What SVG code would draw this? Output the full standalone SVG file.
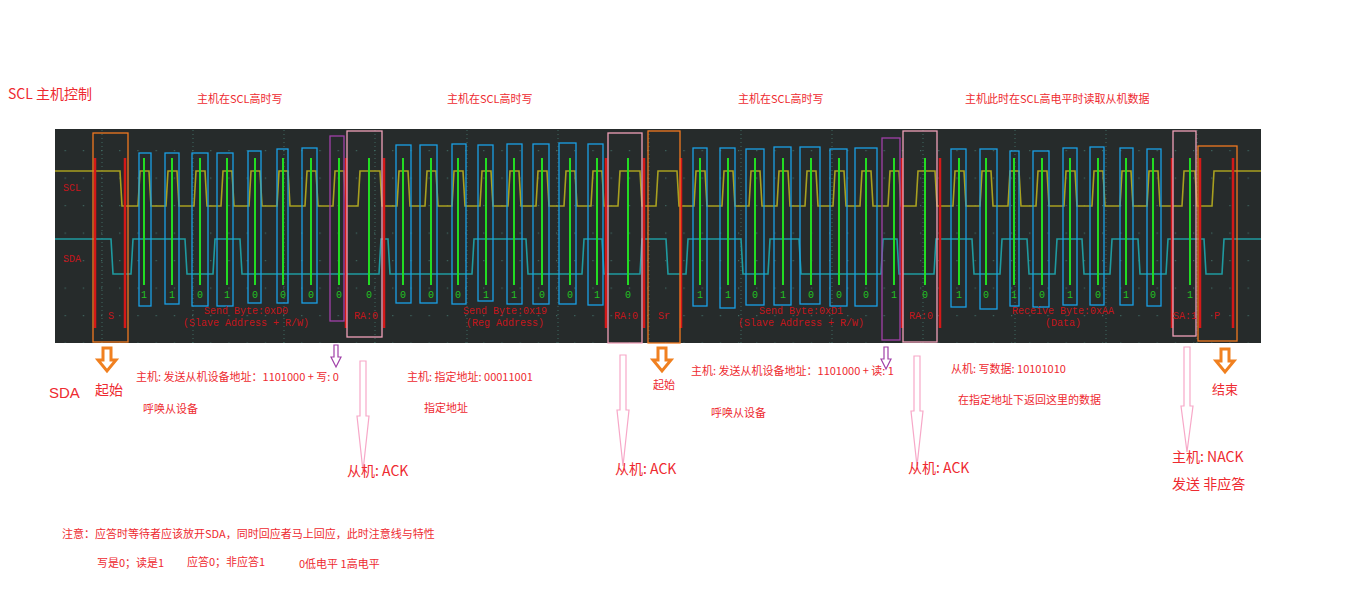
<svg xmlns="http://www.w3.org/2000/svg" width="1348" height="610" viewBox="0 0 1348 610">
<defs>
<pattern id="dots" x="10" y="150" width="18.2" height="27.5" patternUnits="userSpaceOnUse"><rect x="0" y="0" width="1.2" height="1.2" fill="#3f6a63"/></pattern>
</defs>
<style>
.ann{font-family:"Noto Sans CJK SC","Liberation Sans",sans-serif;fill:#ee2a30}
.mono{font-family:"Liberation Mono",monospace;fill:#c4161c;font-size:10px}
.bit{font-family:"Liberation Mono",monospace;fill:#22c422;font-size:10px}
.g{stroke:#22dd22;stroke-width:2}
.bb{fill:none;stroke:#1aa0e6;stroke-width:1.3}
.pb{fill:none;stroke:#f0a0b8;stroke-width:1.3}
.ob{fill:none;stroke:#f07820;stroke-width:1.3}
.vb{fill:none;stroke:#a040a8;stroke-width:1.3}
.rl{stroke:#d41818;stroke-width:2.5}
.vg{stroke:#3f6a63;stroke-width:1;stroke-dasharray:1 3}
.parr{fill:#fff;stroke:#f7a8c8;stroke-width:1.2}
.oarr{fill:#fff;stroke:#f08020;stroke-width:3}
.varr{fill:#fff;stroke:#a040a8;stroke-width:1.2}
</style>
<rect width="1348" height="610" fill="#fff"/>
<g id="scope">
<rect x="55" y="129" width="1206" height="214" fill="#262b2b"/>
<rect x="55" y="129" width="1206" height="214" fill="url(#dots)"/>
<g>
<line class="vg" x1="102" y1="130" x2="102" y2="343"/><line class="vg" x1="193" y1="130" x2="193" y2="343"/><line class="vg" x1="284" y1="130" x2="284" y2="343"/><line class="vg" x1="375" y1="130" x2="375" y2="343"/><line class="vg" x1="467" y1="130" x2="467" y2="343"/><line class="vg" x1="558" y1="130" x2="558" y2="343"/><line class="vg" x1="649" y1="130" x2="649" y2="343"/><line class="vg" x1="741" y1="130" x2="741" y2="343"/><line class="vg" x1="832" y1="130" x2="832" y2="343"/><line class="vg" x1="923" y1="130" x2="923" y2="343"/><line class="vg" x1="1015" y1="130" x2="1015" y2="343"/><line class="vg" x1="1106" y1="130" x2="1106" y2="343"/><line class="vg" x1="1197" y1="130" x2="1197" y2="343"/>
</g>
<text class="mono" x="63" y="191">SCL</text>
<text class="mono" x="63" y="262">SDA</text>
<path fill="none" stroke="#a8a020" stroke-width="1.6" d="M55,171 H120 L122,206 H138 L140,171 H149 L151,206 H166 L168,171 H177 L179,206 H194 L196,171 H205 L207,206 H221 L223,171 H232 L234,206 H249 L251,171 H260 L262,206 H277 L279,171 H288 L290,206 H305 L307,171 H316 L318,206 H333 L335,171 H344 L346,206 H358 L360,171 H380 L382,206 H397 L399,171 H408 L410,206 H425 L427,171 H436 L438,206 H452 L454,171 H463 L465,206 H480 L482,171 H491 L493,206 H508 L510,171 H519 L521,206 H536 L538,171 H547 L549,206 H564 L566,171 H575 L577,206 H591 L593,171 H602 L604,206 H618 L620,171 H640 L642,206 H656 L658,171 H677 L679,206 H694 L696,171 H705 L707,206 H722 L724,171 H733 L735,206 H749 L751,171 H760 L762,206 H777 L779,171 H788 L790,206 H805 L807,171 H816 L818,206 H833 L835,171 H844 L846,206 H860 L862,171 H871 L873,206 H888 L890,171 H899 L901,206 H916 L918,171 H935 L937,206 H953 L955,171 H964 L966,206 H980 L982,171 H991 L993,206 H1008 L1010,171 H1019 L1021,206 H1036 L1038,171 H1047 L1049,206 H1064 L1066,171 H1075 L1077,206 H1092 L1094,171 H1103 L1105,206 H1120 L1122,171 H1131 L1133,206 H1147 L1149,171 H1158 L1160,206 H1182 L1184,171 H1195 L1197,206 H1212 L1214,171 H1261"/>
<path fill="none" stroke="#1f9aa0" stroke-width="1.6" d="M55,239 H111 L113,274 H131 L133,239 H185 L187,274 H213 L215,239 H240 L242,274 H379 L381,239 H388 L390,274 H472 L474,239 H526 L528,274 H582 L584,239 H602 L604,274 H640 L642,239 H666 L668,274 H686 L688,239 H741 L743,274 H768 L770,239 H799 L801,274 H881 L883,239 H897 L899,274 H934 L936,239 H972 L974,274 H1000 L1002,239 H1027 L1029,274 H1055 L1057,239 H1082 L1084,274 H1110 L1112,239 H1138 L1140,274 H1166 L1168,239 H1204 L1206,274 H1222 L1224,239 H1261"/>
<g>
<line class="g" x1="144" y1="158" x2="144" y2="285"/><line class="g" x1="172" y1="158" x2="172" y2="285"/><line class="g" x1="200" y1="158" x2="200" y2="285"/><line class="g" x1="227" y1="158" x2="227" y2="285"/><line class="g" x1="255" y1="158" x2="255" y2="285"/><line class="g" x1="283" y1="158" x2="283" y2="285"/><line class="g" x1="311" y1="158" x2="311" y2="285"/><line class="g" x1="339" y1="158" x2="339" y2="285"/><line class="g" x1="369" y1="158" x2="369" y2="285"/>
<line class="g" x1="403" y1="158" x2="403" y2="285"/><line class="g" x1="431" y1="158" x2="431" y2="285"/><line class="g" x1="458" y1="158" x2="458" y2="285"/><line class="g" x1="486" y1="158" x2="486" y2="285"/><line class="g" x1="514" y1="158" x2="514" y2="285"/><line class="g" x1="542" y1="158" x2="542" y2="285"/><line class="g" x1="570" y1="158" x2="570" y2="285"/><line class="g" x1="597" y1="158" x2="597" y2="285"/><line class="g" x1="628" y1="158" x2="628" y2="285"/>
<line class="g" x1="700" y1="158" x2="700" y2="285"/><line class="g" x1="728" y1="158" x2="728" y2="285"/><line class="g" x1="755" y1="158" x2="755" y2="285"/><line class="g" x1="783" y1="158" x2="783" y2="285"/><line class="g" x1="811" y1="158" x2="811" y2="285"/><line class="g" x1="839" y1="158" x2="839" y2="285"/><line class="g" x1="866" y1="158" x2="866" y2="285"/><line class="g" x1="894" y1="158" x2="894" y2="285"/><line class="g" x1="925" y1="158" x2="925" y2="285"/>
<line class="g" x1="959" y1="158" x2="959" y2="285"/><line class="g" x1="986" y1="158" x2="986" y2="285"/><line class="g" x1="1014" y1="158" x2="1014" y2="285"/><line class="g" x1="1042" y1="158" x2="1042" y2="285"/><line class="g" x1="1070" y1="158" x2="1070" y2="285"/><line class="g" x1="1098" y1="158" x2="1098" y2="285"/><line class="g" x1="1126" y1="158" x2="1126" y2="285"/><line class="g" x1="1153" y1="158" x2="1153" y2="285"/><line class="g" x1="1190" y1="158" x2="1190" y2="285"/>
</g>
<g>
<rect class="bb" x="139" y="153" width="12" height="153"/><rect class="bb" x="165" y="153" width="14" height="151"/><rect class="bb" x="192" y="153" width="16" height="153"/><rect class="bb" x="217" y="153" width="16" height="153"/><rect class="bb" x="248" y="151" width="13" height="152"/><rect class="bb" x="277" y="149" width="11" height="154"/><rect class="bb" x="302" y="148" width="15" height="155"/>
<rect class="bb" x="396" y="145" width="15" height="158"/><rect class="bb" x="420" y="145" width="17" height="158"/><rect class="bb" x="452" y="144" width="14" height="160"/><rect class="bb" x="478" y="145" width="15" height="156"/><rect class="bb" x="507" y="144" width="15" height="160"/><rect class="bb" x="533" y="144" width="16" height="160"/><rect class="bb" x="559" y="143" width="17" height="161"/><rect class="bb" x="588" y="144" width="15" height="161"/>
<rect class="bb" x="693" y="148" width="14" height="158"/><rect class="bb" x="720" y="148" width="15" height="160"/><rect class="bb" x="746" y="149" width="18" height="156"/><rect class="bb" x="774" y="147" width="17" height="158"/><rect class="bb" x="800" y="147" width="20" height="157"/><rect class="bb" x="830" y="149" width="17" height="157"/><rect class="bb" x="855" y="148" width="22" height="158"/>
<rect class="bb" x="951" y="149" width="15" height="158"/><rect class="bb" x="980" y="149" width="17" height="160"/><rect class="bb" x="1010" y="151" width="9" height="155"/><rect class="bb" x="1033" y="151" width="16" height="156"/><rect class="bb" x="1063" y="148" width="14" height="157"/><rect class="bb" x="1090" y="147" width="14" height="158"/><rect class="bb" x="1120" y="148" width="13" height="157"/><rect class="bb" x="1147" y="149" width="14" height="157"/>
</g>
<g>
<line class="rl" x1="95" y1="158" x2="95" y2="328"/><line class="rl" x1="125" y1="158" x2="125" y2="328"/>
<line class="rl" x1="346" y1="158" x2="346" y2="328"/><line class="rl" x1="384" y1="158" x2="384" y2="328"/>
<line class="rl" x1="606" y1="158" x2="606" y2="328"/><line class="rl" x1="644" y1="158" x2="644" y2="328"/><line class="rl" x1="681" y1="158" x2="681" y2="328"/>
<line class="rl" x1="902" y1="158" x2="902" y2="328"/><line class="rl" x1="940" y1="158" x2="940" y2="328"/>
<line class="rl" x1="1172" y1="158" x2="1172" y2="328"/><line class="rl" x1="1200" y1="158" x2="1200" y2="328"/><line class="rl" x1="1233" y1="158" x2="1233" y2="328"/>
</g>
<rect class="ob" x="93" y="133" width="35" height="209"/>
<rect class="vb" x="330" y="136" width="14" height="185"/>
<rect class="pb" x="347" y="131" width="35" height="206"/>
<rect class="pb" x="608" y="133" width="34" height="210"/>
<rect class="ob" x="648" y="131" width="32" height="212"/>
<rect class="vb" x="882" y="138" width="18" height="202"/>
<rect class="pb" x="903" y="131" width="34" height="211"/>
<rect class="pb" x="1173" y="131" width="23" height="205"/>
<rect class="ob" x="1198" y="146" width="39" height="195"/>
<g>
<text class="bit" x="141" y="298">1</text><text class="bit" x="169" y="298">1</text><text class="bit" x="197" y="298">0</text><text class="bit" x="224" y="298">1</text><text class="bit" x="252" y="298">0</text><text class="bit" x="280" y="298">0</text><text class="bit" x="308" y="298">0</text><text class="bit" x="336" y="298">0</text><text class="bit" x="366" y="298">0</text>
<text class="bit" x="400" y="298">0</text><text class="bit" x="428" y="298">0</text><text class="bit" x="455" y="298">0</text><text class="bit" x="483" y="298">1</text><text class="bit" x="511" y="298">1</text><text class="bit" x="539" y="298">0</text><text class="bit" x="567" y="298">0</text><text class="bit" x="594" y="298">1</text><text class="bit" x="625" y="298">0</text>
<text class="bit" x="697" y="298">1</text><text class="bit" x="725" y="298">1</text><text class="bit" x="752" y="298">0</text><text class="bit" x="780" y="298">1</text><text class="bit" x="808" y="298">0</text><text class="bit" x="836" y="298">0</text><text class="bit" x="863" y="298">0</text><text class="bit" x="891" y="298">1</text><text class="bit" x="922" y="298">0</text>
<text class="bit" x="956" y="298">1</text><text class="bit" x="983" y="298">0</text><text class="bit" x="1011" y="298">1</text><text class="bit" x="1039" y="298">0</text><text class="bit" x="1067" y="298">1</text><text class="bit" x="1095" y="298">0</text><text class="bit" x="1123" y="298">1</text><text class="bit" x="1150" y="298">0</text><text class="bit" x="1187" y="298">1</text>
</g>
<g text-anchor="middle">
<text class="mono" x="111" y="319">S</text>
<text class="mono" x="246" y="314">Send Byte:0xD0</text><text class="mono" x="246" y="326">(Slave Address + R/W)</text>
<text class="mono" x="366" y="319">RA:0</text>
<text class="mono" x="505" y="314">Send Byte:0x19</text><text class="mono" x="505" y="326">(Reg Address)</text>
<text class="mono" x="626" y="319">RA:0</text>
<text class="mono" x="664" y="319">Sr</text>
<text class="mono" x="801" y="314">Send Byte:0xD1</text><text class="mono" x="801" y="326">(Slave Address + R/W)</text>
<text class="mono" x="921" y="319">RA:0</text>
<text class="mono" x="1063" y="314">Receive Byte:0xAA</text><text class="mono" x="1063" y="326">(Data)</text>
<text class="mono" x="1185" y="319">SA:1</text>
<text class="mono" x="1217" y="319">P</text>
</g>
</g>
<g id="arrows">
<path class="oarr" d="M103,348 H111 V360 H116 L107,371 L98,360 H103 Z"/>
<path class="oarr" d="M658,348 H666 V360 H671 L662,371 L653,360 H658 Z"/>
<path class="oarr" d="M1221,349 H1229 V361 H1234 L1225,372 L1216,361 H1221 Z"/>
<path class="varr" d="M334,345 H338 V357 H341 L336,367 L331,357 H334 Z"/>
<path class="varr" d="M884,347 H888 V359 H891 L886,369 L881,359 H884 Z"/>
<path class="parr" d="M360,361 H366 V416 H369 L363,471 L357,416 H360 Z"/>
<path class="parr" d="M620,355 H626 V410 H629 L623,466 L617,410 H620 Z"/>
<path class="parr" d="M914,356 H920 V411 H923 L917,466 L911,411 H914 Z"/>
<path class="parr" d="M1184,347 H1190 V406 H1193 L1187,452 L1181,406 H1184 Z"/>
</g>
<g id="labels" class="ann">
<text x="8" y="99" font-size="14">SCL 主机控制</text>
<text x="197" y="103" font-size="11">主机在SCL高时写</text>
<text x="447" y="103" font-size="11">主机在SCL高时写</text>
<text x="738" y="103" font-size="11">主机在SCL高时写</text>
<text x="965" y="103" font-size="11">主机此时在SCL高电平时读取从机数据</text>
<text x="49" y="398" font-size="15" font-family="Liberation Sans,sans-serif">SDA</text>
<text x="95" y="395" font-size="14">起始</text>
<text x="136" y="381" font-size="11">主机: 发送从机设备地址：1101000 + 写: 0</text>
<text x="143" y="413" font-size="11">呼唤从设备</text>
<text x="407" y="381" font-size="11">主机: 指定地址: 00011001</text>
<text x="424" y="412" font-size="11">指定地址</text>
<text x="347" y="476" font-size="14">从机: ACK</text>
<text x="653" y="389" font-size="11">起始</text>
<text x="691" y="375" font-size="11">主机: 发送从机设备地址：1101000 + 读: 1</text>
<text x="711" y="417" font-size="11">呼唤从设备</text>
<text x="615" y="474" font-size="14">从机: ACK</text>
<text x="951" y="373" font-size="11">从机: 写数据: 10101010</text>
<text x="958" y="404" font-size="11">在指定地址下返回这里的数据</text>
<text x="908" y="473" font-size="14">从机: ACK</text>
<text x="1212" y="394" font-size="13">结束</text>
<text x="1172" y="462" font-size="14">主机: NACK</text>
<text x="1172" y="489" font-size="14">发送 非应答</text>
<text x="62" y="538" font-size="11">注意：应答时等待者应该放开SDA，同时回应者马上回应，此时注意线与特性</text>
<text x="97" y="567" font-size="11">写是0；读是1</text>
<text x="187" y="566" font-size="11">应答0；非应答1</text>
<text x="299" y="568" font-size="11">0低电平  1高电平</text>
</g>
</svg>
